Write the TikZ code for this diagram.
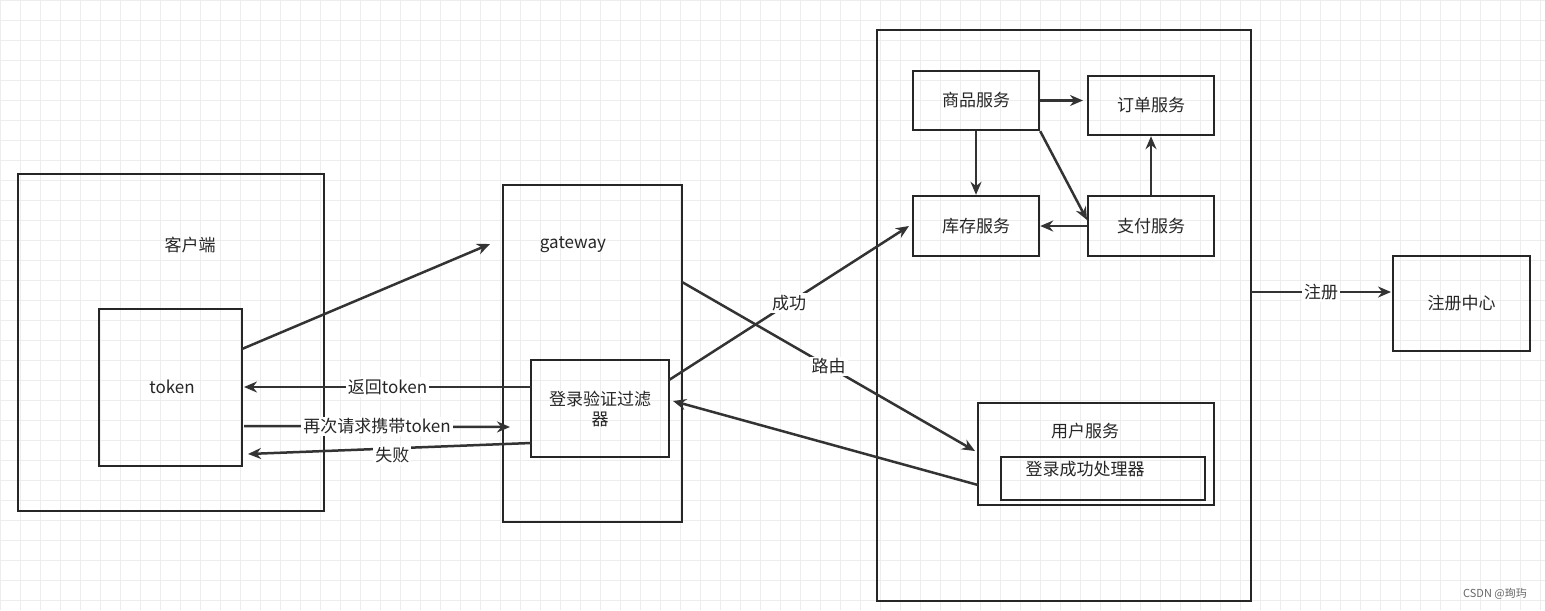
\documentclass[tikz,border=0pt]{standalone}
\usepackage{fontspec}
\setmainfont{Noto Sans CJK SC}
\usetikzlibrary{arrows.meta}
\begin{document}
\begin{tikzpicture}[x=0.5pt,y=-0.5pt,
  box/.style={draw=black!85,line width=1.2pt},
  lbl/.style={font=\fontsize{8.5}{10}\selectfont,text=black!85,inner sep=1pt},
  arr/.style={draw=black!80,line width=1.25pt,-{Stealth[length=6.5pt,width=5.5pt]}},
  el/.style={lbl,fill=white}]
\useasboundingbox (0,0) rectangle (1545,610);
\fill[white] (0,0) rectangle (1545,610);
\foreach \x in {0,20,...,1540} \draw[black!7,line width=0.4pt] (\x,0) -- (\x,610);
\foreach \y in {0,20,...,600} \draw[black!7,line width=0.4pt] (0,\y) -- (1545,\y);
% boxes
\draw[box] (18,174) rectangle (324,511);
\node[lbl] (client) at (190,245) {客户端};
\draw[box] (99,309) rectangle (242,466);
\node[lbl] (token) at (172,387) {token};
\draw[box] (503,185) rectangle (682,522);
\node[lbl] (gw) at (573,245) {gateway};
\node[box,minimum width=69pt,minimum height=48.5pt,align=center,lbl,inner sep=0pt] (flt) at (600,408.5) {登录验证过滤\\器};
\draw[box] (877,30) rectangle (1251,601);
\node[box,lbl,minimum width=63pt,minimum height=29.5pt] (sp) at (976,100.5) {商品服务};
\node[box,lbl,minimum width=63pt,minimum height=29.5pt] (dd) at (1151,105.5) {订单服务};
\node[box,lbl,minimum width=63pt,minimum height=30pt] (kc) at (976,226) {库存服务};
\node[box,lbl,minimum width=63pt,minimum height=30pt] (zf) at (1151,226) {支付服务};
\draw[box] (978,403) rectangle (1214,505);
\node[lbl] (yh) at (1085,431) {用户服务};
\draw[box] (1001,457) rectangle (1205,500);
\node[lbl] (cl) at (1085,469) {登录成功处理器};
\node[box,lbl,minimum width=68.5pt,minimum height=47.5pt] (zc) at (1461.5,303.5) {注册中心};
% coordinates
\coordinate (t1) at (242,349); \coordinate (g1) at (490,244);
\coordinate (f1) at (531,387); \coordinate (t2) at (244,387);
\coordinate (t3) at (244,426); \coordinate (f3) at (510,427);
\coordinate (f4) at (531,443); \coordinate (t4) at (248,454);
\coordinate (f5) at (669,380); \coordinate (k5) at (909,226);
\coordinate (g6) at (682,282); \coordinate (u6) at (975,451);
\coordinate (u7) at (978,485); \coordinate (f7) at (673,401);
\coordinate (b8) at (1251,292); \coordinate (z8) at (1391,292);
% arrows
\draw[arr] (t1) -- (g1);
\draw[arr] (f1) -- node[el]{返回token} (t2);
\draw[arr] (t3) -- node[el,pos=0.5]{再次请求携带token} (f3);
\draw[arr] (f4) -- node[el,pos=0.49,below=-2pt]{失败} (t4);
\draw[arr] (f5) -- node[el,pos=0.5]{成功} (k5);
\draw[arr] (g6) -- node[el,pos=0.5]{路由} (u6);
\draw[arr] (u7) -- (f7);
\draw[arr] (sp.east) -- (1083,100.5);
\draw[arr] (sp.south) -- (kc.north);
\draw[arr] (sp.south east) -- (1087,220);
\draw[arr] (zf.west) -- (kc.east);
\draw[arr] (zf.north) -- (dd.south);
\draw[arr] (b8) -- node[el]{注册} (z8);
\node[font=\fontsize{5.5}{6}\selectfont,text=black!60] (csdn) at (1495,594) {CSDN @珣玙};
\end{tikzpicture}
\end{document}
